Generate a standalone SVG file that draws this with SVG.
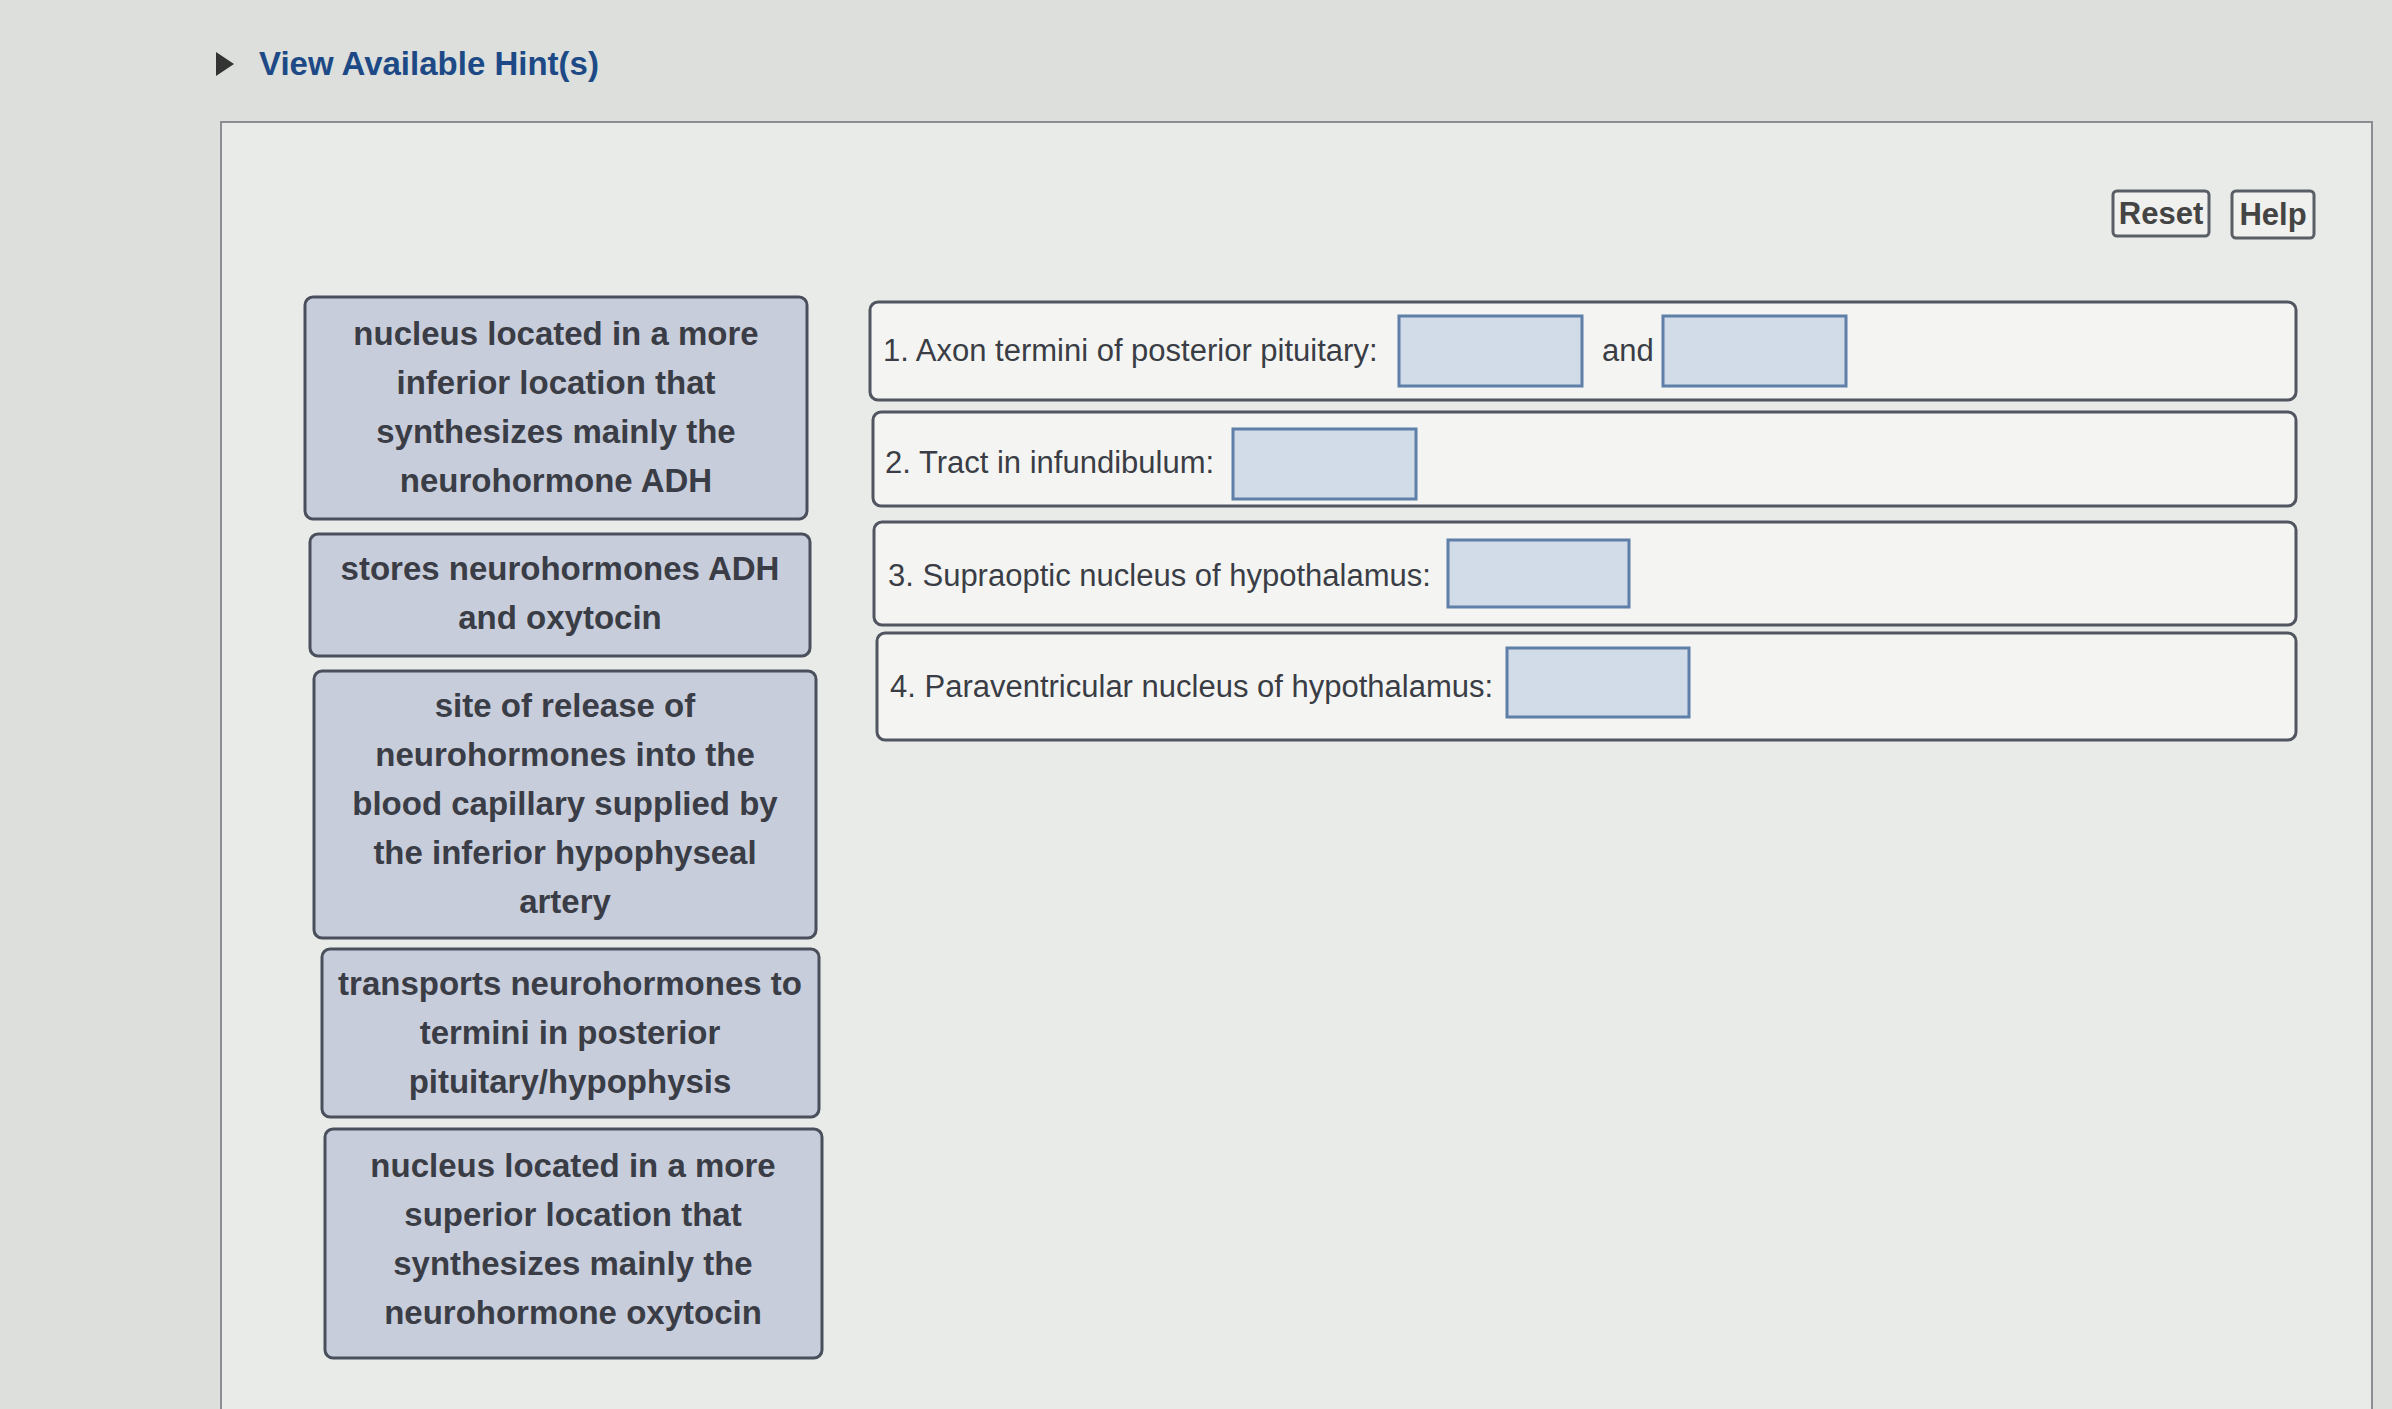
<svg xmlns="http://www.w3.org/2000/svg" width="2392" height="1409" viewBox="0 0 2392 1409">
<style>
.card{fill:#c8cddc;stroke:#4a4f5c;stroke-width:3}
.ct{font-family:"Liberation Sans",Arial,sans-serif;font-size:33px;font-weight:bold;fill:#3a3d45;text-anchor:middle}
.row{fill:#f4f5f2;stroke:#505560;stroke-width:3}
.rt{font-family:"Liberation Sans",Arial,sans-serif;font-size:31px;fill:#3a3d45}
.drop{fill:#d2dbe8;stroke:#5e7fa8;stroke-width:3}
.btn{fill:#f0f0ee;stroke:#5a5f66;stroke-width:3}
.bt{font-family:"Liberation Sans",Arial,sans-serif;font-size:31px;font-weight:bold;fill:#444;text-anchor:middle}
</style>
<rect width="2392" height="1409" fill="#dcdfdb"/>
<g id="hint">
<polygon points="216,52 216,76 234,64" fill="#333"/>
<text x="259" y="75" font-family="Liberation Sans, Arial, sans-serif" font-size="33" font-weight="bold" fill="#1d4a86">View Available Hint(s)</text>
</g>
<rect id="panel" x="221" y="122" width="2151" height="1290" fill="#e9ebe8" stroke="#8a8e92" stroke-width="2"/>
<g id="reset"><rect class="btn" x="2113" y="191" width="96" height="45" rx="4"/><text class="bt" x="2161" y="224">Reset</text></g>
<g id="help"><rect class="btn" x="2232" y="191" width="82" height="47" rx="4"/><text class="bt" x="2273" y="225">Help</text></g>
<g id="card1"><rect class="card" x="305" y="297" width="502" height="222" rx="8"/>
<text class="ct"><tspan x="556" y="345">nucleus located in a more</tspan><tspan x="556" y="394">inferior location that</tspan><tspan x="556" y="443">synthesizes mainly the</tspan><tspan x="556" y="492">neurohormone ADH</tspan></text></g>
<g id="card2"><rect class="card" x="310" y="534" width="500" height="122" rx="8"/>
<text class="ct"><tspan x="560" y="580">stores neurohormones ADH</tspan><tspan x="560" y="629">and oxytocin</tspan></text></g>
<g id="card3"><rect class="card" x="314" y="671" width="502" height="267" rx="8"/>
<text class="ct"><tspan x="565" y="717">site of release of</tspan><tspan x="565" y="766">neurohormones into the</tspan><tspan x="565" y="815">blood capillary supplied by</tspan><tspan x="565" y="864">the inferior hypophyseal</tspan><tspan x="565" y="913">artery</tspan></text></g>
<g id="card4"><rect class="card" x="322" y="949" width="497" height="168" rx="8"/>
<text class="ct"><tspan x="570" y="995">transports neurohormones to</tspan><tspan x="570" y="1044">termini in posterior</tspan><tspan x="570" y="1093">pituitary/hypophysis</tspan></text></g>
<g id="card5"><rect class="card" x="325" y="1129" width="497" height="229" rx="8"/>
<text class="ct"><tspan x="573" y="1177">nucleus located in a more</tspan><tspan x="573" y="1226">superior location that</tspan><tspan x="573" y="1275">synthesizes mainly the</tspan><tspan x="573" y="1324">neurohormone oxytocin</tspan></text></g>
<g id="row1"><rect class="row" x="870" y="302" width="1426" height="98" rx="8"/>
<text class="rt" x="883" y="361">1. Axon termini of posterior pituitary:</text>
<rect class="drop" x="1399" y="316" width="183" height="70"/>
<text class="rt" x="1602" y="361">and</text>
<rect class="drop" x="1663" y="316" width="183" height="70"/></g>
<g id="row2"><rect class="row" x="873" y="412" width="1423" height="94" rx="8"/>
<text class="rt" x="885" y="473">2. Tract in infundibulum:</text>
<rect class="drop" x="1233" y="429" width="183" height="70"/></g>
<g id="row3"><rect class="row" x="874" y="522" width="1422" height="103" rx="8"/>
<text class="rt" x="888" y="586">3. Supraoptic nucleus of hypothalamus:</text>
<rect class="drop" x="1448" y="540" width="181" height="67"/></g>
<g id="row4"><rect class="row" x="877" y="633" width="1419" height="107" rx="8"/>
<text class="rt" x="890" y="697">4. Paraventricular nucleus of hypothalamus:</text>
<rect class="drop" x="1507" y="648" width="182" height="69"/></g>
<g id="connectors"/>
</svg>
